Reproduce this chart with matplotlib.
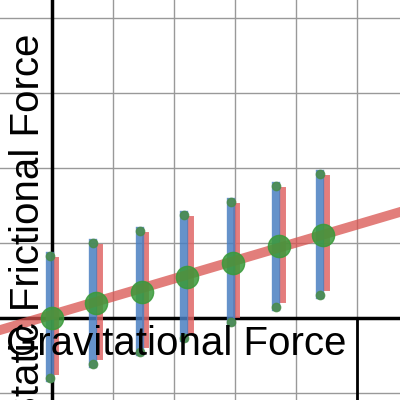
import matplotlib
matplotlib.use("Agg")
import matplotlib.pyplot as plt
import numpy as np

xs = [0, 0.72, 1.48, 2.21, 2.97, 3.72, 4.44]
ys = [0, 0.2, 0.35, 0.55, 0.73, 0.96, 1.11]
tops = [0.83, 1.0, 1.16, 1.37, 1.55, 1.76, 1.92]
bottoms = [-0.8, -0.61, -0.45, -0.27, -0.05, 0.15, 0.31]
slope, intercept = 0.24, 0.044

plt.rcParams["font.family"] = ["Liberation Sans", "DejaVu Sans"]

fig = plt.figure(figsize=(4, 4), dpi=100)
ax = fig.add_axes([0, 0, 1, 1])
ax.set_xlim(-52 / 61, 348 / 61)
ax.set_ylim(-82 / 75, 318 / 75)
ax.axis("off")

for gx in range(0, 6):
    ax.axvline(gx, color="#999999", lw=1, zorder=0)
for gy in range(-1, 5):
    ax.axhline(gy, color="#999999", lw=1, zorder=0)
ax.axvline(0, color="black", lw=2.5, zorder=1)
ax.axhline(0, color="black", lw=2.5, zorder=1)
ax.plot([5, 5], [-2, 0], color="black", lw=2, zorder=1)

for x, t, b in zip(xs, tops, bottoms):
    ax.plot([x + 0.05, x + 0.05], [b + 0.1, t - 0.05], color="#e06666", lw=5, alpha=0.85, zorder=2)
    ax.plot([x - 0.04, x - 0.04], [b, t], color="#4a7fc1", lw=6, alpha=0.85, zorder=3)
    ax.plot([x - 0.04, x - 0.04], [b, t], "o", color="#4a8c4a", ms=6, alpha=0.85, zorder=4)

lx = np.array([-1, 6])
ax.plot(lx, slope * lx + intercept, color="#d9534f", lw=7, alpha=0.75, zorder=5)
ax.plot(xs, ys, "o", color="#3a9a3a", ms=16, alpha=0.85, zorder=6)

fig.text(0.44, 0.14, "Gravitational Force", fontsize=29, ha="center", va="center")
fig.text(0.07, 0.43, "Static Frictional Force", fontsize=29, rotation=90, ha="center", va="center")

fig.savefig("out.png", dpi=100)
